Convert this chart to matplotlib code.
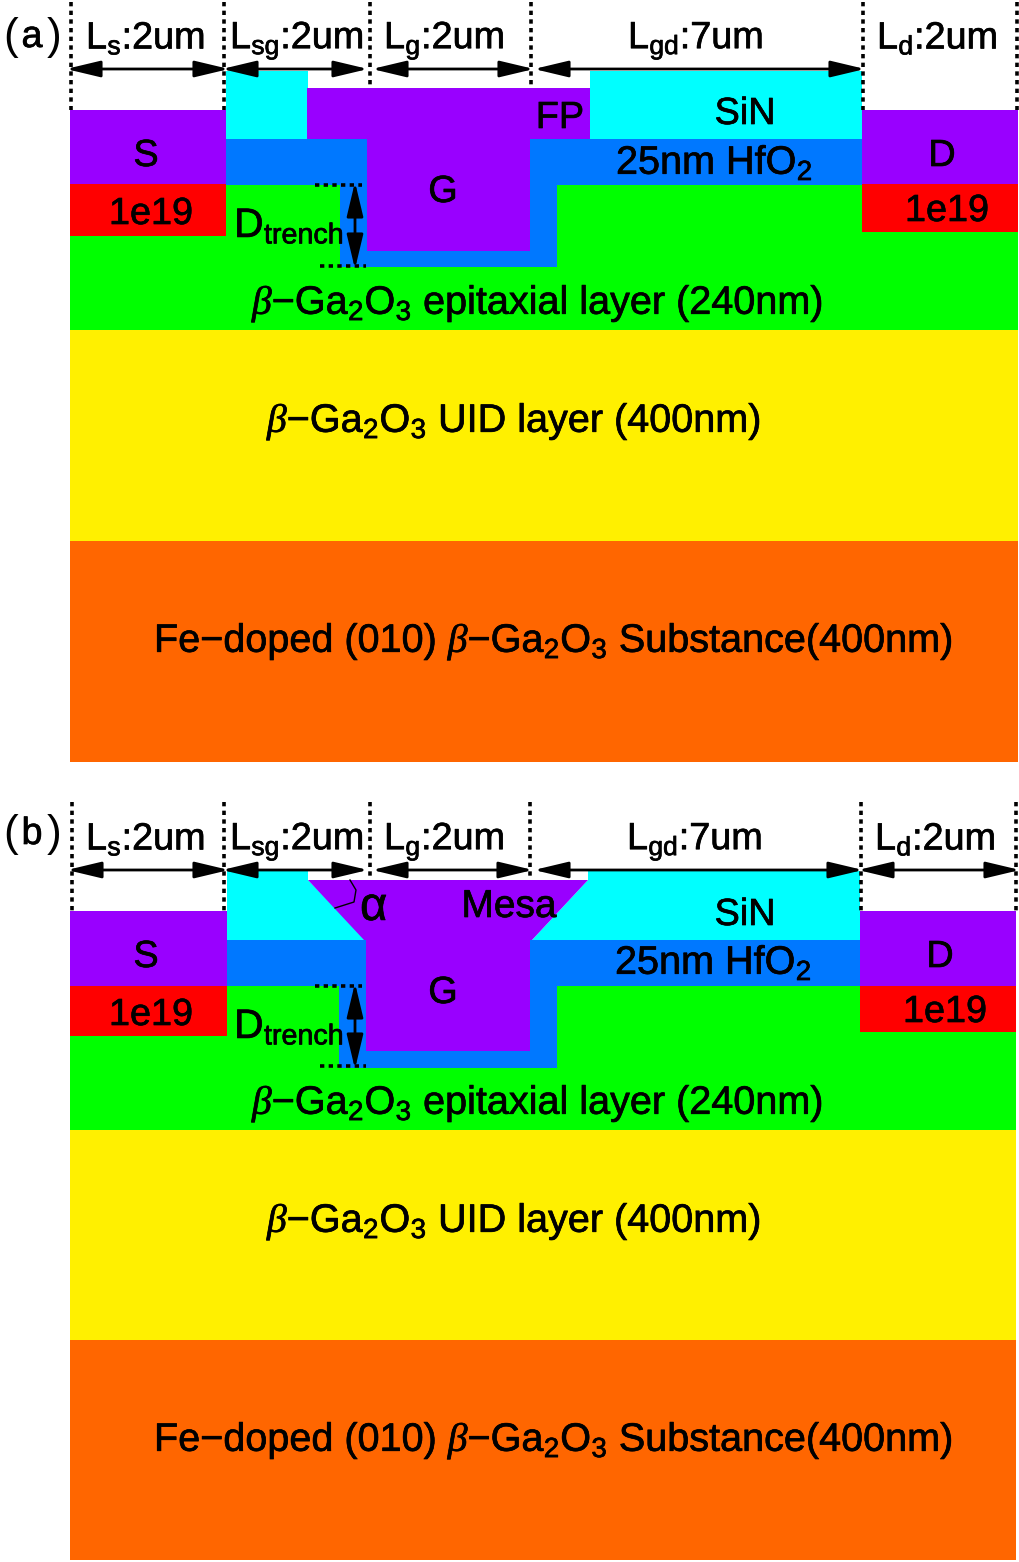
import matplotlib
matplotlib.use("Agg")
from matplotlib import pyplot as plt
from matplotlib import patheffects
from matplotlib.patches import Polygon, Rectangle

plt.rcParams['font.family'] = ['Liberation Sans', 'DejaVu Sans']
plt.rcParams['mathtext.fontset'] = 'custom'
plt.rcParams['mathtext.rm'] = 'Liberation Sans'
plt.rcParams['mathtext.it'] = 'Liberation Serif:italic'
plt.rcParams['mathtext.default'] = 'rm'

# Colours
PURPLE = '#9900ff'
CYAN = '#00ffff'
BLUE = '#0078ff'
GREEN = '#00ff00'
RED = '#ff0000'
YELLOW = '#fff000'
ORANGE = '#ff6600'

# Labels
span_labels = [r'L$_{\mathrm{s}}$:2um', r'L$_{\mathrm{sg}}$:2um', r'L$_{\mathrm{g}}$:2um',
               r'L$_{\mathrm{gd}}$:7um', r'L$_{\mathrm{d}}$:2um']
epi_label = r'$\mathit{\beta}$$-$Ga$_2$O$_3$ epitaxial layer (240nm)'
uid_label = r'$\mathit{\beta}$$-$Ga$_2$O$_3$ UID layer (400nm)'
sub_label = r'Fe$-$doped (010) $\mathit{\beta}$$-$Ga$_2$O$_3$ Substance(400nm)'
hfo_label = r'25nm HfO$_2$'
trench_label = r'D$_{\mathrm{trench}}$'

# Panel (a) geometry, picture pixels
a_right = 1018
a_layers = [185, 330, 541, 762]
a_source = [70, 226, 110, 184, 236]
a_drain = [862, 1018, 110, 184, 232]
a_oxide = [226, 862, 139, 185, 340, 557, 267]
a_sin = [[(226, 71), (308, 71), (308, 139), (226, 139)],
         [(590, 71), (862, 71), (862, 139), (590, 139)]]
a_gate = [(307, 88), (590, 88), (590, 139), (530, 139), (530, 251), (367, 251), (367, 139), (307, 139)]
a_dots = [71, 224, 370, 531, 863, 1017]
a_dot_ends = [2, 2, 2, 2, 2, 2]
a_dot_stops = [110, 110, 88, 88, 110, 110]
a_arrows = [(66, 229), (222, 368), (372, 534), (534, 865), (860, 1022)]
a_arrow_y = 69
a_span_x = [86, 230, 384, 628, 877]
a_span_y = 34
a_trench = [(315, 362, 185), (320, 366, 266)]
a_trench_x = 355

# Panel (b) geometry, picture pixels
b_right = 1016
b_layers = [986, 1130, 1340, 1560]
b_source = [70, 227, 911, 986, 1036]
b_drain = [860, 1016, 911, 986, 1032]
b_oxide = [227, 860, 940, 986, 339, 557, 1068]
b_sin = [[(227, 871), (308, 871), (308, 880), (366, 940), (227, 940)],
         [(588, 871), (860, 871), (860, 940), (532, 940), (588, 880)]]
b_gate = [(308, 880), (588, 880), (532, 940), (530, 940), (530, 1051), (366, 1051), (366, 940), (364, 940)]
b_dots = [72, 224, 370, 530, 861, 1016]
b_dot_ends = [802, 802, 802, 802, 802, 802]
b_dot_stops = [911, 911, 880, 880, 911, 911]
b_arrows = [(67, 229), (222, 368), (372, 533), (534, 863), (858, 1020)]
b_arrow_y = 870
b_span_x = [86, 230, 384, 627, 875]
b_span_y = 835
b_trench = [(315, 362, 986), (320, 366, 1066)]
b_trench_x = 355

fig = plt.figure(figsize=(10.2, 15.62), dpi=100)
ax = fig.add_axes([0, 0, 1, 1])
ax.set_xlim(0, 1020)
ax.set_ylim(1562, 0)
ax.axis('off')

FS = 27.2
FS_LONG = 28.5
heavy = [patheffects.withStroke(linewidth=0.5, foreground='black')]


def rect(x0, x1, y0, y1, color, z=1):
    ax.add_patch(Rectangle((x0, y0), x1 - x0, y1 - y0, fc=color, ec='none', zorder=z))


def label(x, y, s, ha='center', size=FS, bold=True):
    t = ax.text(x, y, s, ha=ha, va='center_baseline', fontsize=size, color='black', zorder=10)
    if bold:
        t.set_path_effects(heavy)


def draw_arrow(x0, y0, x1, y1):
    ax.annotate('', xy=(x1, y1), xytext=(x0, y0), zorder=9,
                arrowprops=dict(arrowstyle='<|-|>,head_length=2.1,head_width=0.5', color='black',
                                lw=2.0, mutation_scale=10, shrinkA=0, shrinkB=0))


def draw_panel(right, layers, source, drain, oxide, sin, gate, dots, dot_ends, dot_stops,
               arrows, arrow_y, span_x, span_y, trench, trench_x):
    # substrate stack
    rect(70, right, layers[0], layers[1], GREEN)
    rect(70, right, layers[1], layers[2], YELLOW)
    rect(70, right, layers[2], layers[3], ORANGE)
    # oxide with trench
    rect(oxide[0], oxide[1], oxide[2], oxide[3], BLUE, 2)
    rect(oxide[4], oxide[5], oxide[3] - 1, oxide[6], BLUE, 2)
    for p in sin:
        ax.add_patch(Polygon(p, closed=True, fc=CYAN, ec='none', zorder=3))
    ax.add_patch(Polygon(gate, closed=True, fc=PURPLE, ec='none', zorder=4))
    # contacts
    for c in (source, drain):
        rect(c[0], c[1], c[2], c[3], PURPLE, 3)
        rect(c[0], c[1], c[3], c[4], RED, 3)
    # dimension lines
    for x, y0, y1 in zip(dots, dot_ends, dot_stops):
        ax.plot([x, x], [y0, y1], color='black', lw=2.6, ls=(0, (1.2, 1.2)), zorder=8)
    for x0, x1 in arrows:
        draw_arrow(x0, arrow_y, x1, arrow_y)
    for x, s in zip(span_x, span_labels):
        label(x, span_y, s, ha='left')
    for x0, x1, y in trench:
        ax.plot([x0, x1], [y, y], color='black', lw=2.6, ls=(0, (1.2, 1.2)), zorder=8)
    draw_arrow(trench_x, trench[0][2] - 3, trench_x, trench[1][2] + 3)


def panel_tag(y, letter):
    label(11, y, '(', size=32, bold=False)
    label(32, y, letter, size=FS)
    label(54, y, ')', size=32, bold=False)


draw_panel(a_right, a_layers, a_source, a_drain, a_oxide, a_sin, a_gate, a_dots, a_dot_ends,
           a_dot_stops, a_arrows, a_arrow_y, a_span_x, a_span_y, a_trench, a_trench_x)
draw_panel(b_right, b_layers, b_source, b_drain, b_oxide, b_sin, b_gate, b_dots, b_dot_ends,
           b_dot_stops, b_arrows, b_arrow_y, b_span_x, b_span_y, b_trench, b_trench_x)

# Panel (a) text
panel_tag(33, 'a')
label(146, 152, 'S')
label(942, 152, 'D')
label(151, 210, '1e19')
label(947, 207, '1e19')
label(443, 188, 'G')
label(560, 114, 'FP')
label(745, 110, 'SiN')
label(616, 158, hfo_label, ha='left', size=FS_LONG)
label(234, 222, trench_label, ha='left', size=29.5)
label(252, 298, epi_label, ha='left', size=FS_LONG)
label(267, 416, uid_label, ha='left', size=FS_LONG)
label(154, 636, sub_label, ha='left', size=FS_LONG)

# Panel (b) text
panel_tag(830, 'b')
label(146, 953, 'S')
label(940, 953, 'D')
label(151, 1011, '1e19')
label(945, 1008, '1e19')
label(443, 989, 'G')
label(509, 903, 'Mesa', size=28)
label(374, 903, r'$\alpha$', size=34)
label(745, 911, 'SiN')
label(615, 958, hfo_label, ha='left', size=FS_LONG)
label(234, 1023, trench_label, ha='left', size=29.5)
label(252, 1098, epi_label, ha='left', size=FS_LONG)
label(267, 1216, uid_label, ha='left', size=FS_LONG)
label(154, 1435, sub_label, ha='left', size=FS_LONG)

# alpha marker line
alpha_x = [350, 356, 354, 335]
alpha_y = [880, 890, 902, 908]
ax.plot(alpha_x, alpha_y, color='black', lw=1, zorder=9)

fig.savefig('out.png', dpi=100)
